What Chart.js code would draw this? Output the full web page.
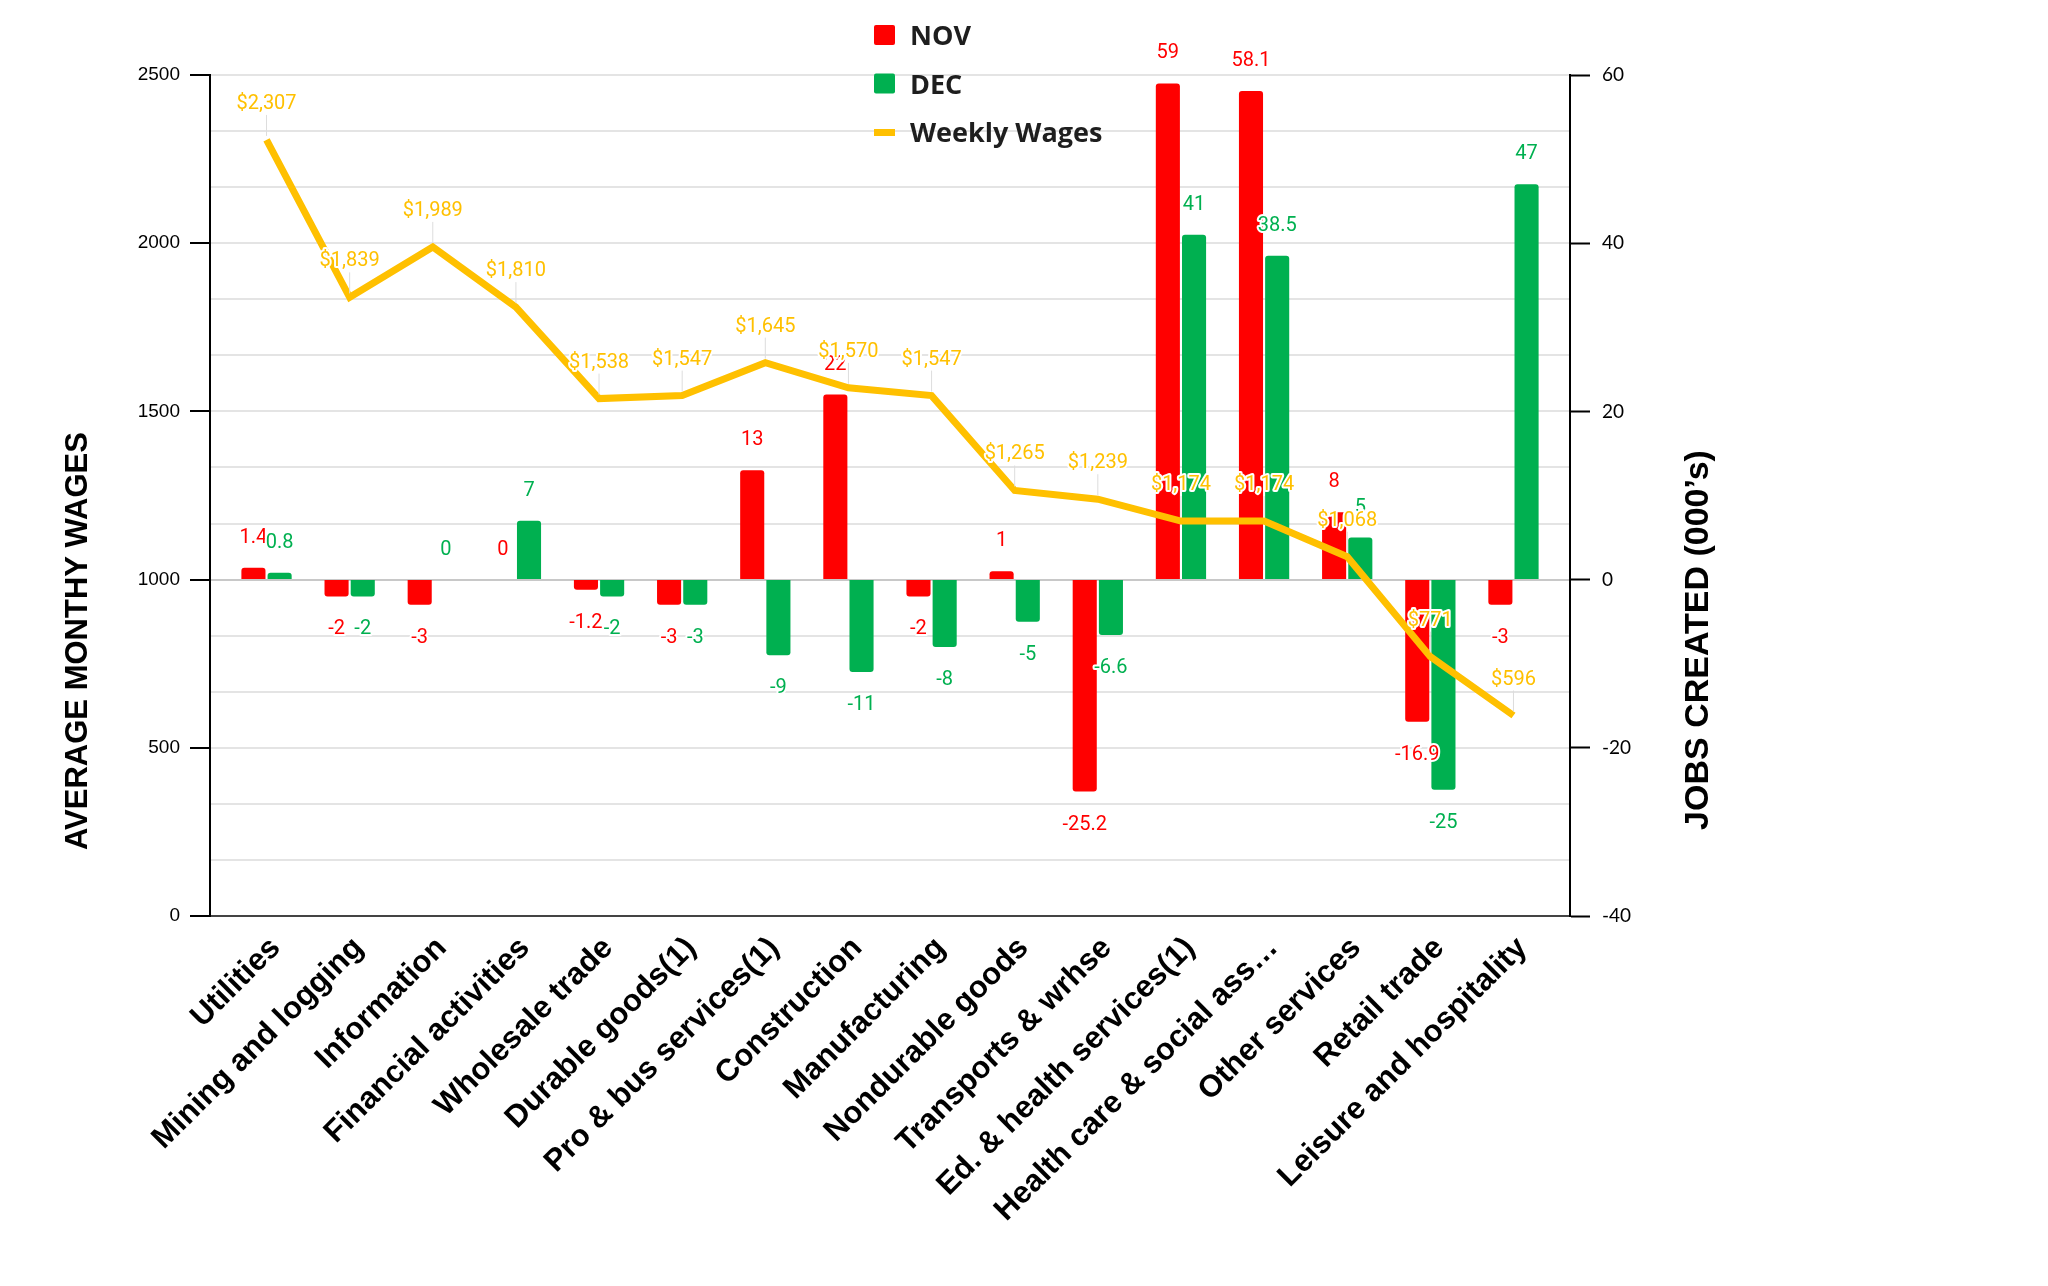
<!DOCTYPE html>
<html>
<head>
<meta charset="utf-8">
<script src="https://cdn.jsdelivr.net/npm/chart.js@4.4.1/dist/chart.umd.min.js"></script>
<style>
  html, body { margin: 0; padding: 0; background: #fff; }
  #wrap { width: 2048px; height: 1286px; }
</style>
</head>
<body>
<div id="wrap"><canvas id="chart" width="2048" height="1286"></canvas></div>
<script>
// chart data
const categories = [
  'Utilities', 'Mining and logging', 'Information', 'Financial activities',
  'Wholesale trade', 'Durable goods(1)', 'Pro & bus services(1)', 'Construction',
  'Manufacturing', 'Nondurable goods', 'Transports & wrhse', 'Ed. & health services(1)',
  'Health care & social ass…', 'Other services', 'Retail trade', 'Leisure and hospitality'
];
const novJobs = [1.4, -2, -3, 0, -1.2, -3, 13, 22, -2, 1, -25.2, 59, 58.1, 8, -16.9, -3];
const decJobs = [0.8, -2, 0, 7, -2, -3, -9, -11, -8, -5, -6.6, 41, 38.5, 5, -25, 47];
const weeklyWages = [2307, 1839, 1989, 1810, 1538, 1547, 1645, 1570, 1547, 1265, 1239, 1174, 1174, 1068, 771, 596];

const RED = '#FF0000';
const GREEN = '#00B050';
const GOLD = '#FFC000';

const isMultiple = (v, step) => Math.abs(v / step - Math.round(v / step)) < 1e-6;

function haloText(ctx, text, x, y, color) {
  ctx.lineWidth = 4;
  ctx.strokeStyle = '#fff';
  ctx.strokeText(text, x, y);
  ctx.fillStyle = color;
  ctx.fillText(text, x, y);
}

// value labels for bars and the wages line
const valueLabels = {
  id: 'valueLabels',
  afterDatasetsDraw(chart) {
    const ctx = chart.ctx;
    ctx.save();
    ctx.font = '20px Roboto';
    ctx.textAlign = 'center';
    ctx.textBaseline = 'middle';
    ctx.lineJoin = 'round';
    chart.data.datasets.forEach((ds, i) => {
      if (ds.type !== 'bar') return;
      chart.getDatasetMeta(i).data.forEach((bar, j) => {
        const v = ds.data[j];
        const y = v >= 0 ? bar.y - 30 : bar.y + 33;
        haloText(ctx, String(v), bar.x, y, ds.backgroundColor);
      });
    });
    chart.data.datasets.forEach((ds, i) => {
      if (ds.type !== 'line') return;
      chart.getDatasetMeta(i).data.forEach((pt, j) => {
        ctx.strokeStyle = '#dddddd';
        ctx.lineWidth = 1;
        ctx.beginPath();
        ctx.moveTo(pt.x, pt.y - 25);
        ctx.lineTo(pt.x, pt.y - 4);
        ctx.stroke();
        haloText(ctx, '$' + ds.data[j].toLocaleString('en-US'), pt.x, pt.y - 36, GOLD);
      });
    });
    ctx.restore();
  }
};

// legend and the two axis titles
const decorations = {
  id: 'decorations',
  afterDraw(chart) {
    const ctx = chart.ctx;
    ctx.save();
    let y = 35;
    chart.data.datasets.forEach(ds => {
      ctx.fillStyle = ds.borderColor || ds.backgroundColor;
      if (ds.type === 'line') {
        ctx.fillRect(874, y - 3, 21, 7);
      } else {
        ctx.beginPath();
        ctx.roundRect(874, y - 10, 21, 20, 2);
        ctx.fill();
      }
      ctx.fillStyle = '#1e1e1e';
      ctx.font = 'bold 27px "Open Sans"';
      ctx.textAlign = 'left';
      ctx.textBaseline = 'alphabetic';
      ctx.fillText(ds.label, 910, y + 10);
      y += 48.5;
    });

    ctx.fillStyle = '#000';
    ctx.textAlign = 'center';
    ctx.textBaseline = 'middle';
    ctx.font = 'bold 31px "Liberation Sans"';
    ctx.translate(78, 641);
    ctx.rotate(-Math.PI / 2);
    ctx.fillText('AVERAGE MONTHY WAGES', 0, 0);
    ctx.setTransform(1, 0, 0, 1, 0, 0);
    ctx.font = 'bold 34px "Liberation Sans"';
    ctx.translate(1699, 640);
    ctx.rotate(-Math.PI / 2);
    ctx.fillText('JOBS CREATED (000’s)', 0, 0);
    ctx.restore();
  }
};

const ctx = document.getElementById('chart').getContext('2d');
new Chart(ctx, {
  data: {
    labels: categories,
    datasets: [
      {
        type: 'bar',
        label: 'NOV',
        data: novJobs,
        yAxisID: 'y1',
        backgroundColor: RED,
        borderRadius: 3,
        barPercentage: 0.92,
        categoryPercentage: 0.63,
        order: 1
      },
      {
        type: 'bar',
        label: 'DEC',
        data: decJobs,
        yAxisID: 'y1',
        backgroundColor: GREEN,
        borderRadius: 3,
        barPercentage: 0.92,
        categoryPercentage: 0.63,
        order: 1
      },
      {
        type: 'line',
        label: 'Weekly Wages',
        data: weeklyWages,
        yAxisID: 'y',
        borderColor: GOLD,
        backgroundColor: GOLD,
        borderWidth: 7,
        pointRadius: 0,
        tension: 0,
        order: 0
      }
    ]
  },
  options: {
    responsive: false,
    animation: false,
    devicePixelRatio: 1,
    layout: { padding: { top: 75 } },
    plugins: {
      legend: { display: false },
      tooltip: { enabled: false }
    },
    scales: {
      x: {
        offset: true,
        grid: { display: false, drawTicks: false },
        border: { color: '#444', width: 2 },
        ticks: {
          autoSkip: false,
          minRotation: 45,
          maxRotation: 45,
          padding: 14,
          labelOffset: 9,
          color: '#000',
          font: { family: 'Liberation Sans', size: 31, weight: 'bold' }
        },
        afterBuildTicks: s => { s._startValue -= 0.18; s._valueRange += 0.36; },
        afterFit: s => { s.height = 370; }
      },
      y: {
        position: 'left',
        min: 0,
        max: 2500,
        ticks: {
          count: 16,
          padding: 10,
          color: '#000',
          font: { family: 'Liberation Sans', size: 19 },
          callback: v => (isMultiple(v, 500) ? Math.round(v) : '')
        },
        grid: {
          color: c => (c.tick && isMultiple(c.tick.value, 1000) && c.tick.value > 0 && c.tick.value < 2000 ? '#c8c8c8' : '#e4e4e4'),
          lineWidth: 2,
          tickLength: 20,
          tickWidth: 2,
          tickColor: c => (c.tick && isMultiple(c.tick.value, 500) ? '#000' : 'rgba(0,0,0,0)')
        },
        border: { color: '#000', width: 2 },
        afterFit: s => { s.width = 210; }
      },
      y1: {
        position: 'right',
        min: -40,
        max: 60,
        ticks: {
          stepSize: 20,
          padding: 12,
          color: '#000',
          font: { family: 'Lato', size: 19 }
        },
        grid: { drawOnChartArea: false, tickLength: 20, tickWidth: 2, tickColor: '#000' },
        border: { color: '#000', width: 2 },
        afterFit: s => { s.width = 478; }
      }
    }
  },
  plugins: [valueLabels, decorations]
});
</script>
</body>
</html>
